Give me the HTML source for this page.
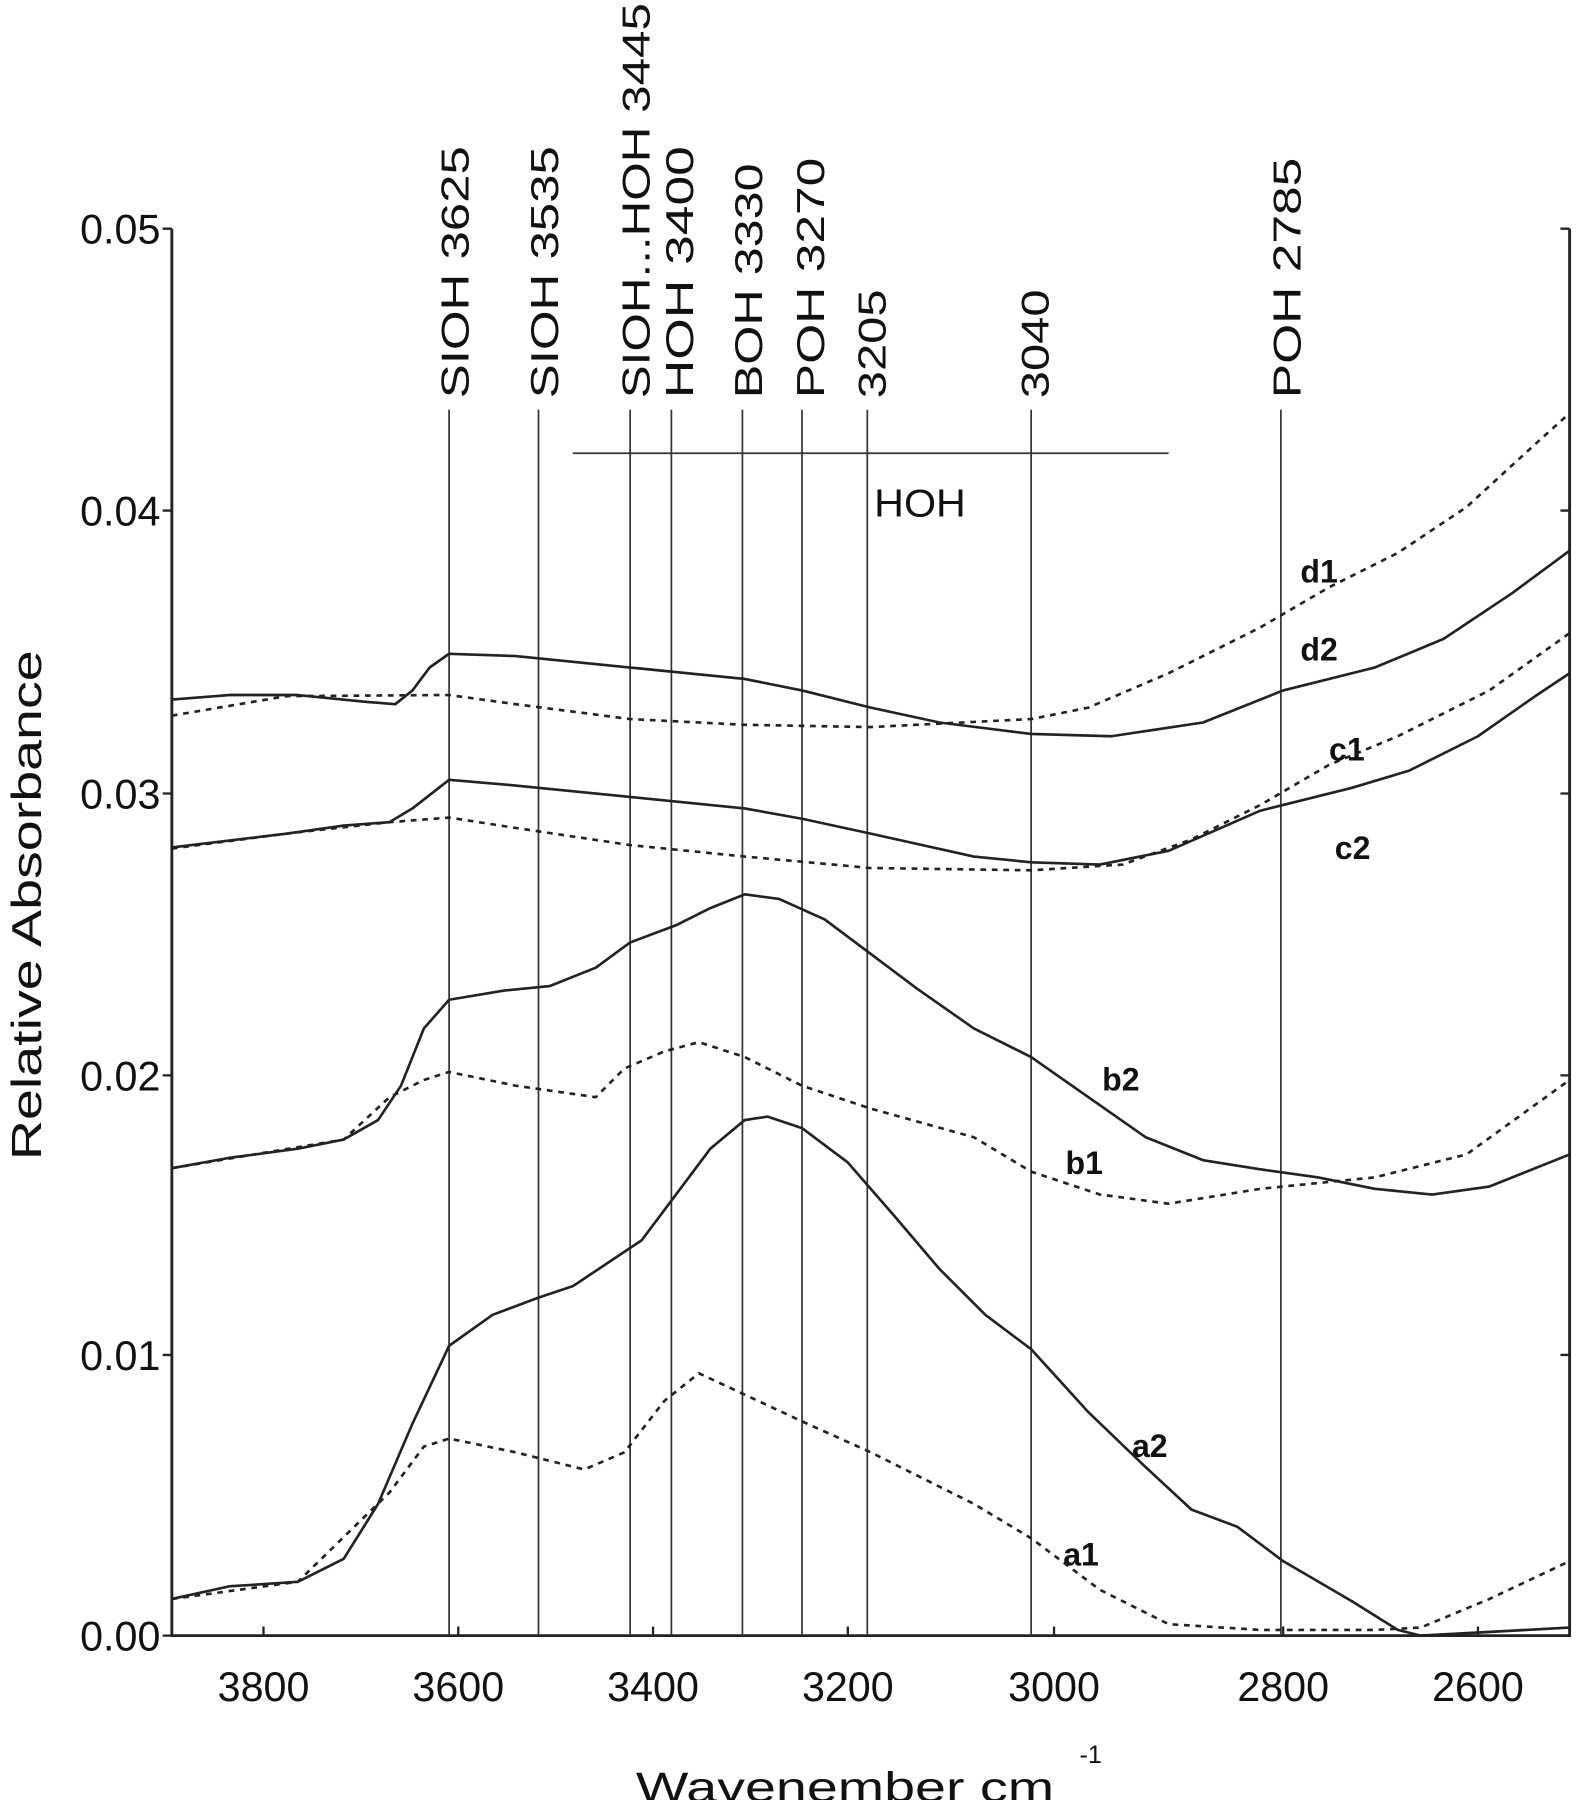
<!DOCTYPE html>
<html><head><meta charset="utf-8"><style>html,body{margin:0;padding:0;background:#fff}svg{display:block}</style></head>
<body>
<svg width="1581" height="1800" viewBox="0 0 1581 1800" xmlns="http://www.w3.org/2000/svg">
<g transform="translate(0,3) scale(1.1457)" font-family="Liberation Sans, sans-serif" fill="none" stroke="#222">
<!-- axes -->
<path d="M150 197 V1425 H1370 V197" stroke-width="2.5"/>
<g stroke-width="2">
<path d="M142 197h8M142 443h8M142 690h8M142 936h8M142 1180h8M142 1425h8"/>
<path d="M1370 197h-8M1370 443h-8M1370 690h-8M1370 936h-8M1370 1180h-8"/>
<path d="M230 1425v-8M400 1425v-8M570 1425v-8M740 1425v-8M920 1425v-8M1120 1425v-8M1290 1425v-8"/>
</g>
<g fill="#111" stroke="none" font-size="36" text-anchor="end">
<text x="140" y="210">0.05</text><text x="140" y="456">0.04</text><text x="140" y="703">0.03</text>
<text x="140" y="949">0.02</text><text x="140" y="1193">0.01</text><text x="140" y="1438">0.00</text>
</g>
<g fill="#111" stroke="none" font-size="36" text-anchor="middle">
<text x="230" y="1482">3800</text><text x="400" y="1482">3600</text><text x="570" y="1482">3400</text>
<text x="740" y="1482">3200</text><text x="920" y="1482">3000</text><text x="1120" y="1482">2800</text><text x="1290" y="1482">2600</text>
<text x="555" y="1570" text-anchor="start" textLength="365" lengthAdjust="spacingAndGlyphs">Wavenember cm</text><text x="952" y="1536" font-size="22">-1</text>
<text transform="translate(36,1010) rotate(-90)" text-anchor="start" textLength="445" lengthAdjust="spacingAndGlyphs">Relative Absorbance</text>
</g>
<!-- vertical lines -->
<g stroke-width="1.5" stroke="#333">
<path d="M392 355V1425M470 355V1425M550 355V1425M586 355V1425M648 355V1425M700 355V1425M757 355V1425M900 355V1425M1118 355V1425"/>
<path d="M500 393H1020"/>
</g>
<g fill="#111" stroke="none" font-size="34">
<text transform="translate(409,345) rotate(-90)" textLength="220" lengthAdjust="spacingAndGlyphs">SIOH  3625</text>
<text transform="translate(487,345) rotate(-90)" textLength="220" lengthAdjust="spacingAndGlyphs">SIOH  3535</text>
<text transform="translate(567,345) rotate(-90)" textLength="345" lengthAdjust="spacingAndGlyphs">SIOH...HOH  3445</text>
<text transform="translate(605,345) rotate(-90)" textLength="220" lengthAdjust="spacingAndGlyphs">HOH  3400</text>
<text transform="translate(665,345) rotate(-90)" textLength="205" lengthAdjust="spacingAndGlyphs">BOH  3330</text>
<text transform="translate(719,345) rotate(-90)" textLength="210" lengthAdjust="spacingAndGlyphs">POH  3270</text>
<text transform="translate(773,345) rotate(-90)" textLength="95" lengthAdjust="spacingAndGlyphs">3205</text>
<text transform="translate(915,345) rotate(-90)" textLength="95" lengthAdjust="spacingAndGlyphs">3040</text>
<text transform="translate(1135,345) rotate(-90)" textLength="210" lengthAdjust="spacingAndGlyphs">POH  2785</text>
<text x="763" y="448" textLength="80" lengthAdjust="spacingAndGlyphs">HOH</text>
</g>
<g fill="#111" stroke="none" font-size="28" font-weight="bold">
<text x="1135" y="506">d1</text><text x="1135" y="574">d2</text><text x="1160" y="661">c1</text><text x="1165" y="747">c2</text>
<text x="962" y="949">b2</text><text x="930" y="1022">b1</text><text x="988" y="1269">a2</text><text x="928" y="1364">a1</text>
</g>
<!-- curves -->
<g stroke-width="2.3" stroke-linejoin="round">
<polyline points="150,608 200,604 260,604 320,610 345,612 360,600 375,580 392,568 450,570 550,580 650,590 700,600 760,615 820,628 900,638 970,640 1050,628 1120,600 1200,580 1260,555 1320,515 1370,478"/>
<polyline stroke-dasharray="5,5" points="150,622 250,605 392,604 450,612 550,625 650,630 760,632 900,625 950,615 1020,585 1100,545 1160,510 1220,480 1280,440 1340,385 1370,358"/>
<polyline points="150,737 250,725 300,718 340,715 360,703 392,678 450,683 550,693 650,703 700,712 760,725 850,745 900,750 960,752 1020,740 1100,705 1180,685 1230,670 1290,640 1340,605 1370,585"/>
<polyline stroke-dasharray="5,5" points="150,738 250,725 340,715 392,711 450,720 550,735 650,745 760,755 900,757 980,752 1040,730 1100,700 1160,665 1220,640 1300,600 1370,550"/>
<polyline points="150,1017 200,1008 260,1000 300,992 330,975 350,945 370,895 392,870 440,862 480,858 520,842 550,820 590,805 620,790 650,778 680,782 720,800 760,830 800,860 850,895 900,920 950,955 1000,990 1050,1010 1100,1018 1150,1025 1200,1035 1250,1040 1300,1033 1370,1005"/>
<polyline stroke-dasharray="5,5" points="150,1017 300,992 340,955 370,940 392,933 450,945 520,955 545,930 580,915 610,907 650,920 700,945 760,965 850,990 900,1020 960,1040 1020,1048 1100,1035 1200,1025 1280,1005 1370,940"/>
<polyline points="150,1393 200,1382 260,1378 300,1358 330,1310 360,1240 392,1172 430,1145 470,1130 500,1120 530,1100 560,1080 590,1040 620,1000 650,975 670,972 700,982 740,1012 780,1058 820,1105 860,1145 900,1175 950,1230 1000,1278 1040,1315 1080,1330 1120,1360 1180,1395 1220,1420 1240,1425 1370,1418"/>
<polyline stroke-dasharray="5,5" points="150,1393 260,1378 340,1300 370,1260 392,1253 450,1265 510,1280 545,1265 580,1220 610,1196 640,1210 700,1238 760,1265 850,1310 900,1340 960,1385 1020,1415 1100,1420 1200,1420 1240,1418 1300,1393 1370,1360"/>
</g>
</g>
</svg>
</body></html>
